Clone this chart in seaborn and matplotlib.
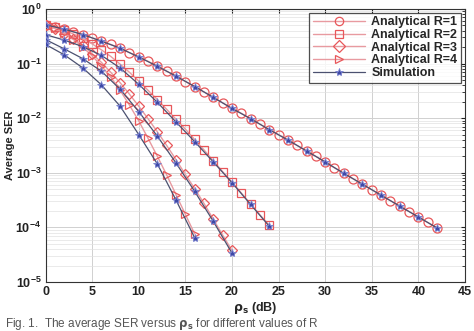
import numpy as np
import pandas as pd
import matplotlib
matplotlib.use("Agg")
import matplotlib.pyplot as plt
import seaborn as sns
from matplotlib.lines import Line2D

# ---- data ----
snr_r1 = list(range(0, 43))
ana_r1 = [0.513, 0.468, 0.427, 0.380, 0.339, 0.295, 0.257, 0.224, 0.191, 0.158,
          0.132, 0.110, 0.0891, 0.0724, 0.0589, 0.0468, 0.0380, 0.0302, 0.0240, 0.0191,
          0.0151, 0.0123, 0.00977, 0.00776, 0.00617, 0.00501, 0.00398, 0.00316, 0.00251,
          0.00200, 0.00158, 0.00123, 0.000977, 0.000776, 0.000617, 0.000490, 0.000389,
          0.000309, 0.000245, 0.000195, 0.000155, 0.000123, 0.0000977]
snr_r1_sim = list(range(0, 43, 2))
sim_r1 = [0.513, 0.427, 0.339, 0.257, 0.191, 0.132, 0.0891, 0.0589, 0.0380, 0.0240,
          0.0151, 0.00977, 0.00617, 0.00398, 0.00251, 0.00158, 0.000977, 0.000617,
          0.000389, 0.000245, 0.000155, 0.0000977]

snr_r2 = list(range(0, 25))
ana_r2 = [0.513, 0.468, 0.407, 0.347, 0.288, 0.229, 0.178, 0.135, 0.0977, 0.0692,
          0.0479, 0.0324, 0.0219, 0.0145, 0.00955, 0.00631, 0.00407, 0.00263, 0.00166,
          0.00105, 0.000676, 0.000427, 0.000269, 0.000170, 0.000110]
snr_r2_sim = list(range(0, 25, 2))
sim_r2 = [0.339, 0.269, 0.204, 0.141, 0.0832, 0.0417, 0.0195, 0.00851, 0.00372,
          0.00158, 0.000661, 0.000263, 0.000105]

snr_r3 = list(range(0, 21))
ana_r3 = [0.513, 0.437, 0.355, 0.282, 0.219, 0.151, 0.105, 0.0692, 0.0447, 0.0275,
          0.0166, 0.00977, 0.00562, 0.00316, 0.00174, 0.000933, 0.000513, 0.000275,
          0.000141, 0.0000724, 0.0000380]
snr_r3_sim = list(range(0, 21, 2))
sim_r3 = [0.275, 0.186, 0.123, 0.0724, 0.0339, 0.0132, 0.00468, 0.00151, 0.000457,
          0.000129, 0.0000339]

snr_r4 = list(range(0, 17))
ana_r4 = [0.513, 0.447, 0.363, 0.275, 0.200, 0.138, 0.0912, 0.0562, 0.0324, 0.0174,
          0.00891, 0.00427, 0.00200, 0.000912, 0.000398, 0.000174, 0.0000759]
snr_r4_sim = list(range(0, 17, 2))
sim_r4 = [0.224, 0.145, 0.0832, 0.0407, 0.0166, 0.00501, 0.00145, 0.000316, 0.0000646]

legend_labels = ["Analytical R=1", "Analytical R=2", "Analytical R=3",
                 "Analytical R=4", "Simulation"]
x_ticks = [0, 5, 10, 15, 20, 25, 30, 35, 40, 45]
caption = r"Fig. 1.  The average SER versus $\rho_s$ for different values of R"

# ---- style ----
sns.set_style("white")
plt.rcParams["font.family"] = ["Liberation Sans", "DejaVu Sans"]
plt.rcParams["font.weight"] = "bold"
plt.rcParams["mathtext.default"] = "bf"

red = "#e8575a"
red_line = "#e89aa0"
blue = "#3f4aa6"
blue_line = "#4b5170"

fig = plt.figure(figsize=(4.74, 3.31), dpi=100)
ax = fig.add_axes([0.096, 0.148, 0.885, 0.825])

ana_sets = [(snr_r1, ana_r1, "o"), (snr_r2, ana_r2, "s"),
            (snr_r3, ana_r3, "D"), (snr_r4, ana_r4, ">")]
sim_sets = [(snr_r1_sim, sim_r1), (snr_r2_sim, sim_r2),
            (snr_r3_sim, sim_r3), (snr_r4_sim, sim_r4)]

for x, y, m in ana_sets:
    df = pd.DataFrame({"snr": x, "ser": y})
    ms = 6.5 if m == "o" else (5 if m == "D" else 5.5)
    sns.lineplot(data=df, x="snr", y="ser", ax=ax, color=red_line, lw=1.0,
                 marker=m, markersize=ms, markerfacecolor="none",
                 markeredgecolor=red, markeredgewidth=0.9, zorder=3)

for x, y in sim_sets:
    df = pd.DataFrame({"snr": x, "ser": y})
    sns.lineplot(data=df, x="snr", y="ser", ax=ax, color=blue_line, lw=0.9,
                 marker="*", markersize=6, markerfacecolor=blue,
                 markeredgecolor="#7a82d0", markeredgewidth=0.6, zorder=4)

ax.set_yscale("log")
ax.set_xlim(0, 45)
ax.set_ylim(1e-5, 1)
ax.set_xticks(x_ticks)
ax.set_xticklabels([str(t) for t in x_ticks])
ax.set_yticks([1e-5, 1e-4, 1e-3, 1e-2, 1e-1, 1e0])

ax.grid(True, which="major", color="#d0d0d0", lw=0.7)
ax.grid(True, which="minor", axis="y", color="#e2e2e2", lw=0.5)
ax.tick_params(axis="both", which="both", direction="in", top=True, right=True,
               labelsize=9, colors="#222222")
ax.tick_params(axis="both", which="major", length=3, pad=3)
ax.tick_params(axis="y", which="minor", length=2)
for sp in ax.spines.values():
    sp.set_color("#333333")
    sp.set_linewidth(0.8)

ax.set_xlabel(r"$\rho_s$ (dB)", fontsize=9, fontweight="bold", labelpad=1)
ax.set_ylabel("Average SER", fontsize=8, fontweight="bold", labelpad=0)

handles = []
for (_, _, m) in ana_sets:
    handles.append(Line2D([0], [0], color=red_line, lw=1.0, marker=m,
                          markersize=6, markerfacecolor="none",
                          markeredgecolor=red, markeredgewidth=0.9))
handles.append(Line2D([0], [0], color=blue_line, lw=0.9, marker="*", markersize=6,
                      markerfacecolor=blue, markeredgecolor="#7a82d0",
                      markeredgewidth=0.6))
leg = ax.legend(handles, legend_labels, loc="upper right", fontsize=9,
                frameon=True, fancybox=False, handlelength=4.2,
                borderpad=0.3, labelspacing=0.05, handletextpad=0.5,
                borderaxespad=0.3)
leg.get_frame().set_edgecolor("#222222")
leg.get_frame().set_linewidth(0.9)
for t in leg.get_texts():
    t.set_fontweight("bold")

fig.text(0.01, 0.012, caption, fontsize=8.5, color="#555555", va="baseline",
         ha="left", fontweight="normal")

fig.savefig("out.png", dpi=100)
